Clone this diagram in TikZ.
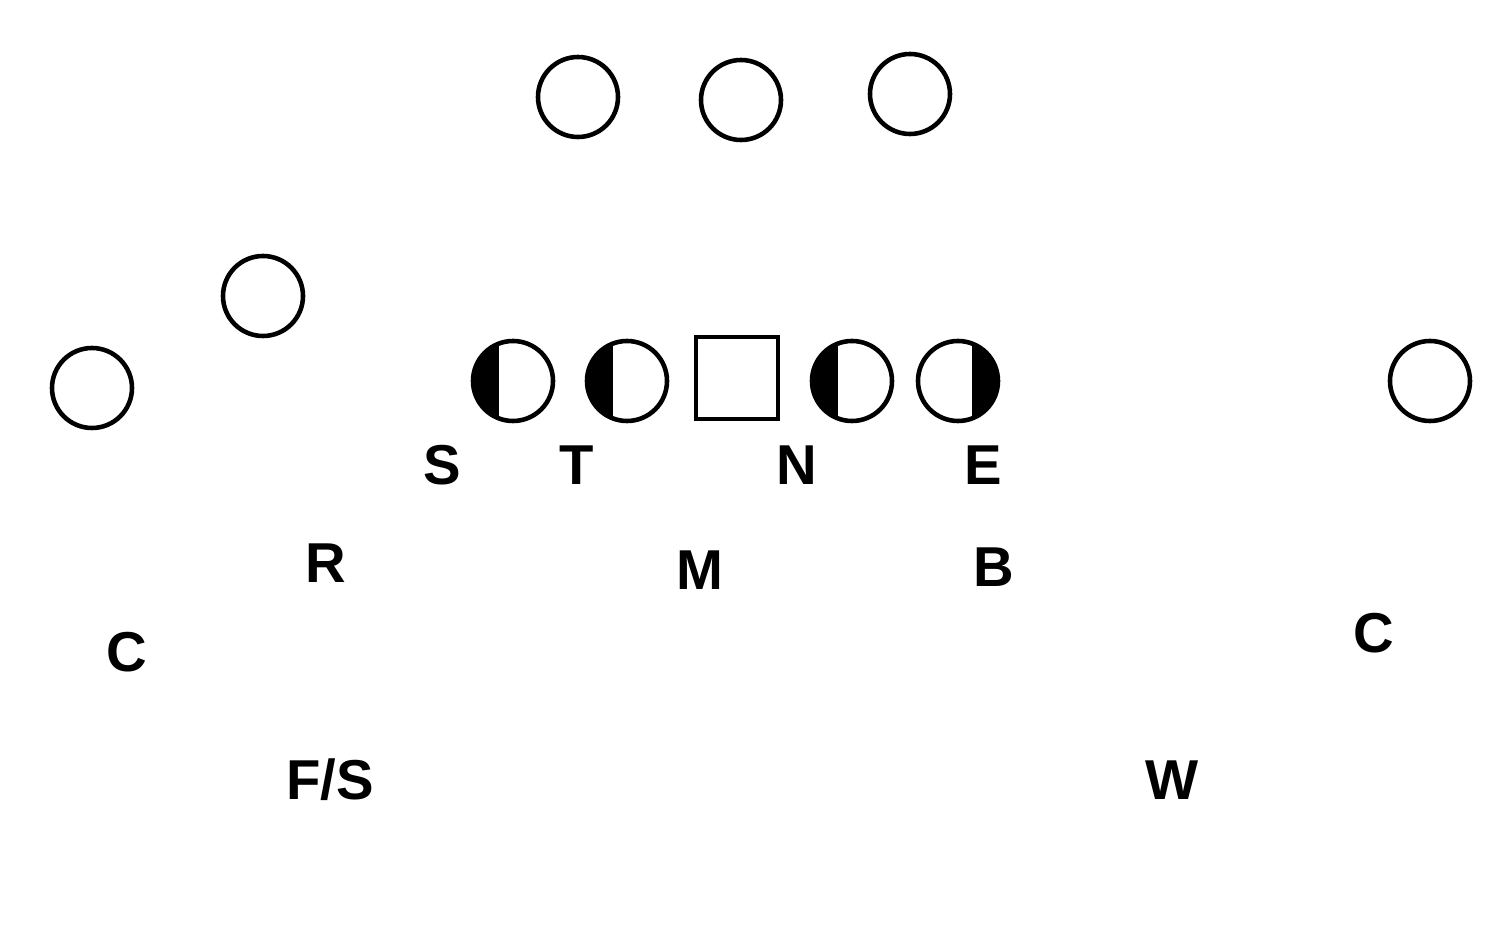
\documentclass[tikz,border=0pt]{standalone}
\usepackage{fontspec}
\setmainfont{Liberation Sans}
\usepackage{tikz}
\usetikzlibrary{calc, positioning}
\tikzstyle{plr}=[inner sep=0pt, draw, line width=1.3pt, shape=circle, minimum size=0.8cm]
\tikzstyle{ctr}=[inner sep=0pt, draw, line width=1.3pt, shape=rectangle, minimum size=0.82cm]
\tikzstyle{dl}=[plr, path picture={\fill[black] (path picture bounding box.south west) rectangle ([xshift=-0.14cm]path picture bounding box.north);}]
\tikzstyle{dr}=[plr, path picture={\fill[black] ([xshift=0.14cm]path picture bounding box.south) rectangle (path picture bounding box.north east);}]
\tikzstyle{def}=[font=\fontsize{16pt}{18pt}\selectfont\bfseries, inner sep=0pt]

\begin{document}
\begin{tikzpicture}
\useasboundingbox (0,0) rectangle (15,9.32);
% backfield
\node[plr] (QB) at (7.41,8.32) {};
\node[plr] (HB) at (5.78,8.35) {};
\node[plr] (FB) at (9.10,8.38) {};
% receivers
\node[plr] (WR1) at (0.92,5.44) {};
\node[plr] (WR2) at (2.63,6.36) {};
\node[plr] (WR3) at (14.30,5.51) {};
% line
\node[dl] (LT) at (5.13,5.51) {};
\node[dl] (LG) at (6.27,5.51) {};
\node[ctr] (OC) at (7.37,5.54) {};
\node[dl] (RG) at (8.52,5.51) {};
\node[dr] (RT) at (9.58,5.51) {};
% defense
\node[def] (S) at (4.42,4.67) {S};
\node[def] (T) at (5.77,4.67) {T};
\node[def] (N) at (7.97,4.67) {N};
\node[def] (E) at (9.83,4.67) {E};
\node[def] (R) at (3.26,3.69) {R};
\node[def] (M) at (7.00,3.62) {M};
\node[def] (B) at (9.94,3.65) {B};
\node[def] (C1) at (1.27,2.80) {C};
\node[def] (C2) at (13.74,2.99) {C};
\node[def] (FS) at (3.30,1.52) {F/S};
\node[def] (W) at (11.72,1.52) {W};
\end{tikzpicture}
\end{document}
